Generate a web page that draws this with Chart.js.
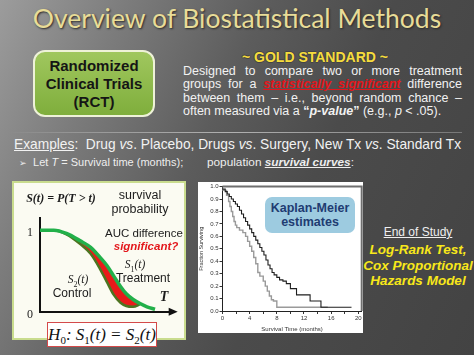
<!DOCTYPE html>
<html>
<head>
<meta charset="utf-8">
<script src="https://cdn.jsdelivr.net/npm/chart.js@4.4.1/dist/chart.umd.min.js"></script>
<style>
html, body { margin: 0; padding: 0; }
body {
    width: 474px; height: 355px; overflow: hidden; position: relative;
    font-family: "Liberation Sans", Arial, sans-serif; color: #eeeeee;
    background: linear-gradient(115deg, #9c9c9c 0%, #7c7c7c 20%, #5c5c5c 42%, #4b4b4b 62%, #434343 100%);
}
.abs { position: absolute; }
.c { position: absolute; transform: translate(-50%, -50%); white-space: nowrap; }
.serif { font-family: "Liberation Serif", "Times New Roman", serif; }
#title { left: 0; top: 2px; width: 474px; text-align: center; font-family: "Lato", sans-serif;
    font-size: 26.5px; color: #e8dc98; text-shadow: 1px 1px 2px #2a2a2a; }
#rct { left: 33px; top: 50px; width: 118px; height: 63px; border: 2px solid #eef2d8; border-radius: 12px;
    background: linear-gradient(#a0c75e, #7fae3c); color: #151515; font-weight: bold; font-size: 15px;
    line-height: 18px; text-align: center; display: flex; align-items: center; justify-content: center; }
#gold { left: 315px; top: 57px; font-weight: bold; font-size: 14px; color: #f6dc3c;
    text-shadow: -1px 0 #444, 1px 0 #444, 0 -1px #444, 0 1px #444; }
#para { left: 183px; top: 65px; width: 279px; font-size: 12.5px; line-height: 13.4px; color: #f2f2f2; }
#para div { text-align: justify; text-align-last: justify; }
#para div.last { text-align-last: left; }
.sig { color: #e3161b; font-weight: bold; font-style: italic; text-decoration: underline; }
#rule { left: 8px; top: 132px; width: 454px; height: 1px; background: linear-gradient(90deg, #8a8a8a, #b0b0b0 50%, #777); }
#examples { left: 14px; top: 137px; font-size: 13.75px; color: #f2f2f2; white-space: nowrap; }
#bullet { left: 19px; top: 156px; font-size: 11px; color: #eeeeee; white-space: nowrap; }
#popn { left: 207px; top: 155px; font-size: 11.8px; color: #eeeeee; white-space: nowrap; }
#leftPanel { left: 12px; top: 181px; width: 170px; height: 155px; background: #fbfbf2; border: 2px solid #c9dc8e; }
#kmPanel { left: 198px; top: 182px; width: 165px; height: 151px; background: #ffffff; }
#kmBox { left: 265px; top: 197px; width: 90px; height: 36px; border-radius: 7px; background: #9dcbe0;
    color: #1f3c72; font-weight: bold; font-size: 12.5px; line-height: 14.5px; text-align: center;
    display: flex; align-items: center; justify-content: center; }
#h0 { left: 47px; top: 322px; width: 108px; height: 23px; background: #ffffff; border: 1px solid #d44a4a;
    font-size: 17px; font-style: italic; color: #111; text-align: center; line-height: 23px; }
.dark { color: #1c1c1c; }
.yel { color: #f8e81a; font-weight: bold; font-style: italic; font-size: 13.5px; }
canvas { position: absolute; }
</style>
</head>
<body>
<div id="title" class="abs">Overview of Biostatistical Methods</div>
<div id="rct" class="abs"><div>Randomized<br>Clinical Trials<br>(RCT)</div></div>
<div id="gold" class="c">~ GOLD STANDARD ~</div>
<div id="para" class="abs">
    <div>Designed to compare two or more treatment</div>
    <div>groups for a <span class="sig">statistically significant</span> difference</div>
    <div>between them – i.e., beyond random chance –</div>
    <div class="last">often measured via a <b>“<i>p-value</i>”</b> (e.g., <i>p</i> &lt; .05).</div>
</div>
<div id="rule" class="abs"></div>
<div id="examples" class="abs"><u>Examples</u>:&nbsp; Drug <i>vs</i>. Placebo, Drugs <i>vs</i>. Surgery, New Tx <i>vs</i>. Standard Tx</div>
<div id="bullet" class="abs"><span style="font-size:9px">&#10146;</span>&nbsp; Let <i>T</i> = Survival time (months);</div>
<div id="popn" class="abs">population <b><i><u>survival curves</u></i></b>:</div>

<div id="leftPanel" class="abs"></div>
<canvas id="conceptChart" width="174" height="159" style="left:12px;top:181px;"></canvas>
<div class="c serif dark" style="left:61px;top:198px;font-size:12px;font-weight:bold;font-style:italic;">S(t) = P(T &gt; t)</div>
<div class="c dark" style="left:140px;top:195px;font-size:12.5px;">survival</div>
<div class="c dark" style="left:140px;top:209px;font-size:12.5px;">probability</div>
<div class="c dark" style="left:144px;top:233px;font-size:11.5px;">AUC difference</div>
<div class="c" style="left:146px;top:246px;font-size:11.5px;font-weight:bold;font-style:italic;color:#e3161b;">significant?</div>
<div class="c serif dark" style="left:135px;top:266px;font-size:11.5px;font-style:italic;">S<sub style="font-style:normal;font-size:8px">1</sub>(t)</div>
<div class="c dark" style="left:143px;top:278px;font-size:12px;">Treatment</div>
<div class="c serif dark" style="left:78px;top:281px;font-size:11.5px;font-style:italic;">S<sub style="font-style:normal;font-size:8px">2</sub>(t)</div>
<div class="c dark" style="left:72px;top:293px;font-size:12px;">Control</div>
<div class="c serif dark" style="left:30px;top:232px;font-size:12px;">1</div>
<div class="c serif dark" style="left:30px;top:314px;font-size:12px;">0</div>
<div class="c serif dark" style="left:164px;top:297px;font-size:14px;font-weight:bold;font-style:italic;">T</div>
<div id="h0" class="abs serif">H<sub style="font-style:normal;font-size:11px">0</sub>: S<sub style="font-style:normal;font-size:11px">1</sub>(t) = S<sub style="font-style:normal;font-size:11px">2</sub>(t)</div>

<div id="kmPanel" class="abs"></div>
<canvas id="kmChart" width="165" height="151" style="left:198px;top:182px;"></canvas>
<div id="kmBox" class="abs"><div>Kaplan-Meier<br>estimates</div></div>

<div class="c" style="left:418px;top:232px;font-size:12px;color:#efefef;"><u>End of Study</u></div>
<div class="c yel" style="left:418px;top:249px;">Log-Rank Test,</div>
<div class="c yel" style="left:418px;top:265px;">Cox Proportional</div>
<div class="c yel" style="left:418px;top:280px;">Hazards Model</div>

<script>
"use strict";

// Kaplan-Meier estimates: time (months) and fraction surviving
var kmTreatTime = [0, 0.4, 0.7, 1.0, 1.3, 1.6, 1.9, 2.2, 2.5, 2.8, 3.1, 3.4, 3.7, 4.0, 4.3, 4.6, 4.9, 5.2, 5.5, 5.8,
    6.1, 6.4, 6.7, 7.0, 7.3, 7.6, 8.0, 8.4, 8.9, 9.4, 10.0, 10.9, 12.9, 14.5, 18.7, 19.0];
var kmTreatSurv = [1.0, 0.98, 0.96, 0.94, 0.92, 0.90, 0.88, 0.86, 0.84, 0.81, 0.78, 0.75, 0.72, 0.69, 0.66, 0.63, 0.60, 0.57, 0.54, 0.51,
    0.48, 0.45, 0.41, 0.37, 0.34, 0.31, 0.29, 0.27, 0.25, 0.24, 0.22, 0.18, 0.13, 0.08, 0.03, 0.03];
var kmControlTime = [0, 0.6, 0.9, 1.1, 1.3, 1.5, 1.7, 1.9, 2.1, 2.5, 3.0, 3.4, 3.7, 4.0, 4.3, 4.6, 4.9, 5.2, 5.5,
    6.0, 6.3, 6.6, 6.9, 7.2, 7.5, 8.0, 10.2, 15.5];
var kmControlSurv = [1.0, 0.97, 0.93, 0.88, 0.84, 0.80, 0.76, 0.72, 0.69, 0.67, 0.65, 0.63, 0.60, 0.56, 0.52, 0.48, 0.43, 0.38, 0.31,
    0.28, 0.24, 0.20, 0.16, 0.12, 0.09, 0.08, 0.03, 0.03];
var kmXTicks = [0, 2, 4, 6, 8, 10, 12, 14, 16, 18, 20];
var kmXLabels = [0, 4, 8, 12, 16, 20];

// Conceptual population survival curves (unitless time)
var conceptTime = [0, 1.2, 2.3, 3.5, 4.4, 5.2, 5.8, 6.4, 7.0, 7.5, 8.1, 8.7, 9.3, 10.0];
var conceptTreat = [1.0, 1.0, 0.96, 0.87, 0.79, 0.67, 0.57, 0.44, 0.31, 0.22, 0.15, 0.10, 0.06, 0.03];
var conceptControl = [1.0, 1.0, 0.95, 0.83, 0.71, 0.53, 0.37, 0.21, 0.11, 0.07, 0.06, 0.09];

function toPoints(xs, ys) {
    return ys.map(function (y, i) { return { x: xs[i], y: y }; });
}

// Top and right frame of the KM plot
var framePlugin = {
    id: 'frame',
    afterDraw: function (chart) {
        var a = chart.chartArea, ctx = chart.ctx;
        ctx.save();
        ctx.strokeStyle = '#6f6f6f';
        ctx.lineWidth = 2;
        ctx.beginPath();
        ctx.moveTo(a.left, a.top);
        ctx.lineTo(a.right, a.top);
        ctx.lineTo(a.right, a.bottom);
        ctx.stroke();
        ctx.restore();
    }
};

var kmFont = { family: 'Liberation Sans', size: 6 };

var kmChart = new Chart(document.getElementById('kmChart'), {
    type: 'line',
    data: {
        datasets: [{
            label: 'Treatment',
            data: toPoints(kmTreatTime, kmTreatSurv),
            stepped: 'after',
            borderColor: '#1e1e1e',
            borderWidth: 1.1,
            pointRadius: 0,
            fill: false
        }, {
            label: 'Control',
            data: toPoints(kmControlTime, kmControlSurv),
            stepped: 'after',
            borderColor: '#9a9a9a',
            borderWidth: 1.4,
            pointRadius: 0,
            fill: false
        }]
    },
    options: {
        responsive: false,
        animation: false,
        layout: { padding: { left: 0, top: 3, right: 1.3, bottom: 0 } },
        plugins: { legend: { display: false }, tooltip: { enabled: false } },
        scales: {
            x: {
                type: 'linear', min: 0, max: 20.5,
                afterBuildTicks: function (s) { s.ticks = kmXTicks.map(function (v) { return { value: v }; }); },
                ticks: {
                    autoSkip: false, maxRotation: 0, padding: 1, color: '#333', font: kmFont,
                    callback: function (v) { return kmXLabels.indexOf(v) >= 0 ? String(v) : ''; }
                },
                grid: { drawOnChartArea: false, drawTicks: true, tickLength: 3, color: '#333' },
                border: { color: '#222', width: 1 },
                title: { display: true, text: 'Survival Time (months)', color: '#333', font: kmFont, padding: { top: 1, bottom: 0 } },
                afterFit: function (s) { s.height = 22; }
            },
            y: {
                min: 0, max: 1,
                ticks: {
                    stepSize: 0.1, padding: 1, color: '#333', font: kmFont,
                    callback: function (v) { return v.toFixed(1); }
                },
                grid: { drawOnChartArea: false, drawTicks: true, tickLength: 3, color: '#333' },
                border: { color: '#222', width: 1 },
                title: { display: true, text: 'Fraction Surviving', color: '#333', font: { family: 'Liberation Sans', size: 5.5 }, padding: 0 },
                afterFit: function (s) { s.width = 24.5; }
            }
        }
    },
    plugins: [framePlugin]
});

// Arrow head on the concept chart's time axis
var arrowPlugin = {
    id: 'arrow',
    afterDraw: function (chart) {
        var a = chart.chartArea, ctx = chart.ctx;
        ctx.save();
        ctx.fillStyle = '#111';
        ctx.beginPath();
        ctx.moveTo(a.right + 6, a.bottom);
        ctx.lineTo(a.right - 3, a.bottom - 4);
        ctx.lineTo(a.right - 3, a.bottom + 4);
        ctx.closePath();
        ctx.fill();
        ctx.restore();
    }
};

var conceptChart = new Chart(document.getElementById('conceptChart'), {
    type: 'line',
    data: {
        datasets: [{
            label: 'S1(t) Treatment',
            data: toPoints(conceptTime, conceptTreat),
            borderColor: '#22b04a',
            borderWidth: 3.5,
            pointRadius: 0,
            cubicInterpolationMode: 'monotone',
            fill: false
        }, {
            label: 'S2(t) Control',
            data: toPoints(conceptTime, conceptControl),
            borderColor: '#4d7420',
            borderWidth: 2.5,
            pointRadius: 0,
            cubicInterpolationMode: 'monotone',
            backgroundColor: '#ea1a1a',
            fill: '-1'
        }]
    },
    options: {
        responsive: false,
        animation: false,
        layout: { padding: { left: 28, top: 37, right: 14.3, bottom: 28.3 } },
        plugins: { legend: { display: false }, tooltip: { enabled: false }, filler: { drawTime: 'beforeDatasetsDraw' } },
        scales: {
            x: {
                type: 'linear', min: 0, max: 11.45,
                ticks: { display: false },
                grid: { display: false },
                border: { color: '#111', width: 2 },
                afterFit: function (s) { s.height = 0; }
            },
            y: {
                min: 0, max: 1.15,
                ticks: { display: false },
                grid: { display: false },
                border: { color: '#111', width: 2 },
                afterFit: function (s) { s.width = 0; }
            }
        }
    },
    plugins: [arrowPlugin]
});
</script>
</body>
</html>
